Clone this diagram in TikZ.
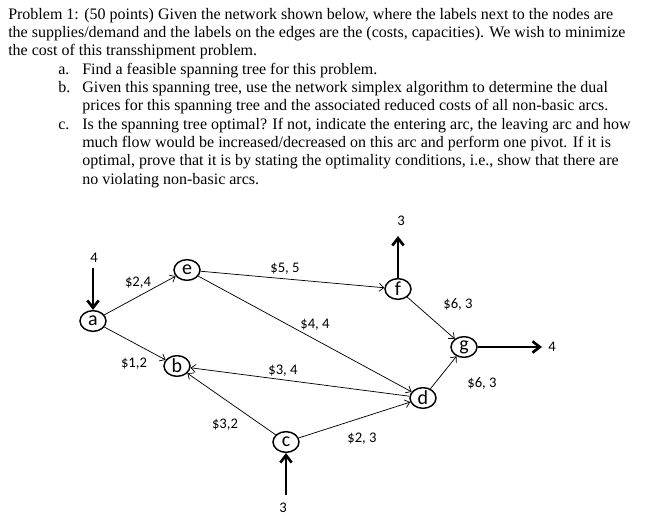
\documentclass[tikz,border=0pt]{standalone}
\usepackage{fontspec}
\setmainfont{Liberation Serif}
\newfontfamily\calfont{Carlito}
\usetikzlibrary{arrows.meta,shapes.geometric}

\begin{document}
\begin{tikzpicture}[x=0.75pt,y=-0.75pt,
txt/.style={anchor=base west,inner sep=0pt,font=\fontsize{12}{13.8}\selectfont},
vert/.style={draw,ellipse,line width=1.1pt,inner sep=0pt,minimum width=19.5pt,minimum height=15.5pt,font=\calfont\fontsize{15}{15}\selectfont},
lab/.style={inner sep=1pt,font=\calfont\fontsize{11}{11}\selectfont},
arr/.style={-{Straight Barb[length=3.5pt,width=6pt]},line width=0.55pt},
supply/.style={-{Straight Barb[length=5.5pt,width=8.5pt]},line width=2pt}]
\useasboundingbox (0,0) rectangle (658,525);
% problem text
\node[txt] (p1) at (8,19.3) {Problem 1: (50 points) Given the network shown below, where the labels next to the nodes are};
\node[txt] (p2) at (8,37.6) {the supplies/demand and the labels on the edges are the (costs, capacities). We wish to minimize};
\node[txt] (p3) at (8,55.9) {the cost of this transshipment problem.};
\node[txt] (ia) at (58,74.2) {a.}; \node[txt] (ta) at (82,74.2) {Find a feasible spanning tree for this problem.};
\node[txt] (ib) at (58,92.5) {b.}; \node[txt] (tb1) at (82,92.5) {Given this spanning tree, use the network simplex algorithm to determine the dual};
\node[txt] (tb2) at (82,110.8) {prices for this spanning tree and the associated reduced costs of all non-basic arcs.};
\node[txt] (ic) at (58,129.1) {c.}; \node[txt] (tc1) at (82,129.1) {Is the spanning tree optimal? If not, indicate the entering arc, the leaving arc and how};
\node[txt] (tc2) at (82,147.4) {much flow would be increased/decreased on this arc and perform one pivot. If it is};
\node[txt] (tc3) at (82,165.7) {optimal, prove that it is by stating the optimality conditions, i.e., show that there are};
\node[txt] (tc4) at (82,184) {no violating non-basic arcs.};
% network
\node[vert] (a) at (93,321) {a};
\node[vert] (e) at (187,270) {e};
\node[vert] (b) at (177,366) {b};
\node[vert] (f) at (398,289) {f};
\node[vert] (g) at (464,347) {g};
\node[vert] (d) at (423,398) {d};
\node[vert] (c) at (286,442) {c};
\draw[arr] (a)--(e); \draw[arr] (a)--(b);
\draw[arr] (e)--(f); \draw[arr] (e)--(d);
\draw[arr,{Straight Barb[length=3.5pt,width=6pt]}-] (b)--(d);
\draw[arr] (c)--(b); \draw[arr] (c)--(d);
\draw[arr] (f)--(g); \draw[arr] (d)--(g);
% supplies and demands
\coordinate (sa) at (93,268); \coordinate (sf) at (398,236);
\coordinate (sg) at (542,347); \coordinate (sc) at (286,495);
\draw[supply] (sa)--(a); \draw[supply] (f)--(sf);
\draw[supply] (g)--(sg); \draw[supply] (sc)--(c);
\node[lab] (qa) at (94,258) {4}; \node[lab] (qf) at (401,221) {3};
\node[lab] (qg) at (552,347) {4}; \node[lab] (qc) at (283,508) {3};
% costs, capacities
\node[lab] (lae) at (138,283) {\$2,4};
\node[lab] (lef) at (285,269) {\$5, 5};
\node[lab] (led) at (315,325) {\$4, 4};
\node[lab] (lab) at (134,364) {\$1,2};
\node[lab] (lbd) at (283,371) {\$3, 4};
\node[lab] (lfg) at (458,304) {\$6, 3};
\node[lab] (ldg) at (482,383) {\$6, 3};
\node[lab] (lcb) at (225,425) {\$3,2};
\node[lab] (lcd) at (362,439) {\$2, 3};
\end{tikzpicture}
\end{document}
